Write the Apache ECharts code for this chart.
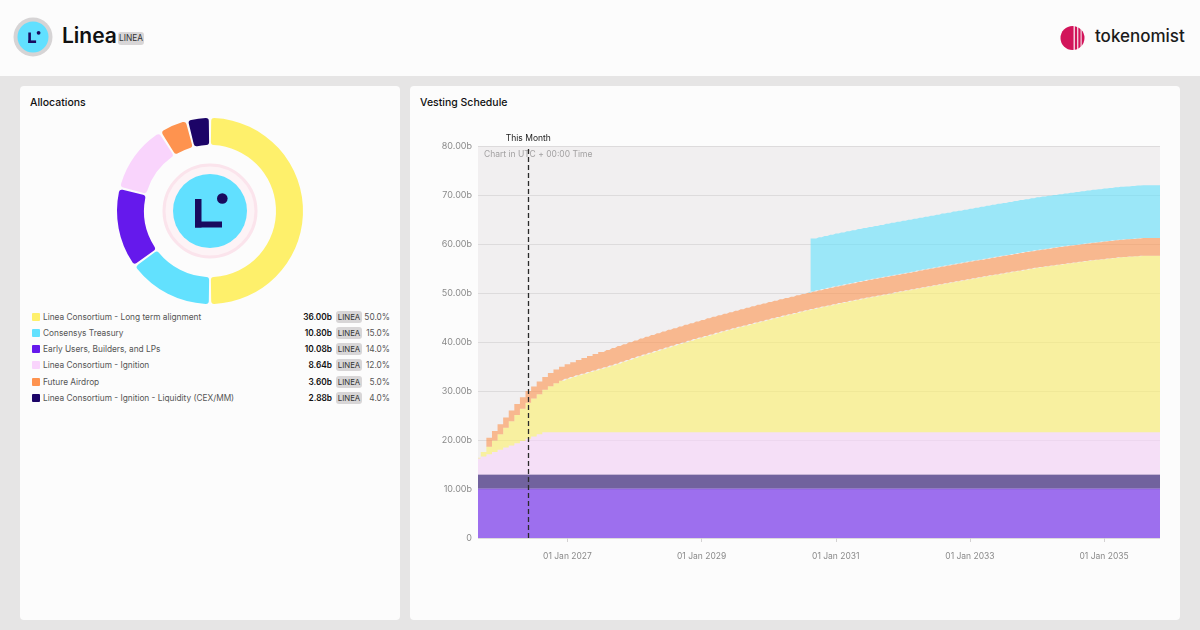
<!DOCTYPE html>
<html>
<head>
<meta charset="utf-8">
<title>Linea - Vesting Schedule</title>
<script src="https://cdn.jsdelivr.net/npm/echarts@6/dist/echarts.min.js"></script>
<style>
  html, body { margin: 0; padding: 0; }
  body { width: 1200px; height: 630px; background: #e6e5e5; position: relative; overflow: hidden; font-family: Inter, 'Noto Sans', sans-serif; }
  .header { position: absolute; left: 0; top: 0; width: 1200px; height: 76px; background: #fcfcfc; }
  .brand { position: absolute; left: 62px; top: 23px; font-size: 21px; font-weight: 600; color: #111; }
  .badge { position: absolute; background: #d8d6d7; color: #333; border-radius: 3px; font-size: 8px; text-align: center; line-height: 12px; height: 12px; }
  .tokenomist { position: absolute; left: 1095px; top: 26px; font-size: 17px; font-weight: 500; color: #1b1b1b; }
  .panel { position: absolute; top: 86px; height: 534px; background: #fcfcfc; border-radius: 4px; }
  .title { position: absolute; left: 10px; top: 10px; font-size: 10.5px; font-weight: 500; color: #111; }
  .row { position: absolute; left: 32px; width: 358px; height: 14px; font-size: 8.3px; line-height: 14px; color: #555; }
  .row .sw { position: absolute; left: 0; top: 3px; width: 8px; height: 8px; border-radius: 1px; }
  .row .nm { position: absolute; left: 11px; }
  .row .val { position: absolute; right: 58px; font-weight: 600; color: #111; }
  .row .pct { position: absolute; right: 0; }
  .row .badge { font-size: 7.8px; }
  #chart { position: absolute; left: 0; top: 0; width: 1200px; height: 630px; }
</style>
</head>
<body>
<div class="header">
  <div class="brand">Linea</div>
  <div class="badge" style="left:118px;top:32px;width:26px;height:13px;line-height:13px;font-size:8.3px;">LINEA</div>
  <div class="tokenomist">tokenomist</div>
</div>
<div class="panel" style="left:20px;width:380px;"><div class="title">Allocations</div></div>
<div class="panel" style="left:410px;width:770px;"><div class="title">Vesting Schedule</div></div>
<div id="legendRows"></div>
<div id="chart"></div>

<script>
// allocations
const allocNames = ['Linea Consortium - Long term alignment', 'Consensys Treasury', 'Early Users, Builders, and LPs',
	'Linea Consortium - Ignition', 'Future Airdrop', 'Linea Consortium - Ignition - Liquidity (CEX/MM)'];
const allocAmounts = [36.00, 10.80, 10.08, 8.64, 3.60, 2.88];
const allocShares = [50.0, 15.0, 14.0, 12.0, 5.0, 4.0];
const allocColors = ['#fef06b', '#62e1fe', '#6519ec', '#f9d4fc', '#fe934f', '#1c0467'];

// monthly x categories, Sep 2025 .. Nov 2035
const monthNames = ['Jan', 'Feb', 'Mar', 'Apr', 'May', 'Jun', 'Jul', 'Aug', 'Sep', 'Oct', 'Nov', 'Dec'];
const monthCount = 123;
const months = [];
for (let i = 0; i < monthCount; i++) {
	const m = (8 + i) % 12;
	const y = 2025 + Math.floor((8 + i) / 12);
	months.push('01 ' + monthNames[m] + ' ' + y);
}
const tickLabels = ['01 Jan 2027', '01 Jan 2029', '01 Jan 2031', '01 Jan 2033', '01 Jan 2035'];
const thisMonth = '01 Jun 2026';

// unlocked amounts (billions), read month by month; flat after the last value
const earlyUsers = [10.08];
const liquidity = [2.88];
const ignition = [3.24, 3.69, 4.14, 4.59, 5.04, 5.49, 5.94, 6.39, 6.84, 7.29, 7.74, 8.19, 8.64];
const longTerm = [
	0.20, 0.90, 1.52, 2.36, 3.19, 4.06, 4.93, 5.75, 6.57, 7.34,
	7.75, 8.20, 8.63, 9.35, 9.97, 10.48, 10.88, 11.24, 11.59, 11.93,
	12.27, 12.60, 12.93, 13.25, 13.58, 13.97, 14.36, 14.74, 15.12, 15.49,
	15.85, 16.21, 16.57, 16.93, 17.29, 17.63, 17.97, 18.31, 18.65, 18.99,
	19.31, 19.63, 19.95, 20.27, 20.59, 20.89, 21.19, 21.49, 21.79, 22.09,
	22.38, 22.66, 22.95, 23.23, 23.52, 23.79, 24.06, 24.33, 24.60, 24.87,
	25.12, 25.37, 25.62, 25.87, 26.12, 26.35, 26.58, 26.81, 27.04, 27.27,
	27.48, 27.69, 27.90, 28.11, 28.32, 28.53, 28.74, 28.95, 29.16, 29.37,
	29.58, 29.79, 29.99, 30.20, 30.40, 30.61, 30.81, 31.01, 31.21, 31.41,
	31.61, 31.80, 32.00, 32.19, 32.39, 32.58, 32.77, 32.96, 33.15, 33.34,
	33.53, 33.69, 33.85, 34.01, 34.17, 34.33, 34.48, 34.62, 34.77, 34.91,
	35.06, 35.18, 35.31, 35.43, 35.56, 35.68, 35.76, 35.84, 35.92, 36.00
];
const airdrop = [null, 0, 1.85, 1.93, 2.01, 2.09, 2.17, 2.25, 2.33, 2.41, 2.49, 2.57, 2.65, 2.73, 2.81,
	2.89, 2.97, 3.05, 3.13, 3.21, 3.29, 3.37, 3.45, 3.53, 3.60];
const treasuryCliff = '01 Sep 2030';
const treasuryAmount = 10.80;

function hold(values) {
	const out = values.slice();
	while (out.length < monthCount) out.push(out[out.length - 1]);
	return out;
}
// nothing drawn before the cliff, one zero step just before it
const cliffIdx = months.indexOf(treasuryCliff);
const treasury = months.map((m, i) => (i >= cliffIdx ? treasuryAmount : (i === cliffIdx - 1 ? 0 : null)));

// legend rows
const rowsBox = document.getElementById('legendRows');
allocNames.forEach((name, i) => {
	const row = document.createElement('div');
	row.className = 'row';
	row.style.top = (309.5 + i * 16.3) + 'px';
	row.innerHTML = '<span class="sw" style="background:' + allocColors[i] + '"></span>' +
		'<span class="nm">' + name + '</span>' +
		'<span class="val">' + allocAmounts[i].toFixed(2) + 'b</span>' +
		'<span class="badge" style="left:304px;top:1px;width:26px;">LINEA</span>' +
		'<span class="pct">' + allocShares[i].toFixed(1) + '%</span>';
	rowsBox.appendChild(row);
});

const showTick = (idx, value) => tickLabels.indexOf(value) >= 0;

// stacking order bottom -> top
const layers = [
	{ idx: 2, data: hold(earlyUsers) },
	{ idx: 5, data: hold(liquidity) },
	{ idx: 3, data: hold(ignition) },
	{ idx: 0, data: hold(longTerm) },
	{ idx: 4, data: hold(airdrop) },
	{ idx: 1, data: treasury }
];

const myChart = echarts.init(document.getElementById('chart'), null, { renderer: 'canvas' });
const ink = '#190b5e';
const option = {
	animation: false,
	textStyle: { fontFamily: 'Inter, sans-serif' },
	grid: { left: 478, right: 40, top: 146, bottom: 92, show: true, backgroundColor: '#f1eff0', borderWidth: 0 },
	xAxis: {
		type: 'category',
		boundaryGap: false,
		data: months,
		axisLine: { show: false },
		axisTick: { show: true, interval: showTick, length: 4, lineStyle: { color: '#d4d2d3' } },
		axisLabel: { interval: showTick, color: '#8a8a8a', fontSize: 8.5, margin: 14 },
		splitLine: { show: false }
	},
	yAxis: {
		type: 'value',
		min: 0,
		max: 80,
		interval: 10,
		axisLine: { show: false },
		axisTick: { show: false },
		axisLabel: { color: '#8a8a8a', fontSize: 9, margin: 6, formatter: v => (v === 0 ? '0' : v.toFixed(2) + 'b') },
		splitLine: { lineStyle: { color: '#dddbdc', width: 1 } }
	},
	series: layers.map((l, k) => {
		const s = {
			name: allocNames[l.idx],
			type: 'line',
			stack: 'total',
			step: 'middle',
			symbol: 'none',
			silent: true,
			connectNulls: false,
			data: l.data,
			lineStyle: { width: 0 },
			itemStyle: { color: allocColors[l.idx] },
			areaStyle: { color: allocColors[l.idx], opacity: 0.6 }
		};
		if (k === 0) {
			s.markLine = {
				silent: true,
				symbol: ['none', 'none'],
				data: [{ xAxis: thisMonth }],
				lineStyle: { type: [5, 3], color: '#2a2a2a', width: 1.3 },
				label: { show: true, position: 'end', formatter: 'This Month', color: '#222', fontSize: 8.5, distance: 3 }
			};
		}
		return s;
	}).concat([{
		type: 'pie',
		center: [210, 211],
		radius: [66, 93],
		startAngle: 90,
		clockwise: true,
		padAngle: 1.5,
		silent: true,
		label: { show: false },
		itemStyle: { borderRadius: 3 },
		data: allocNames.map((n, i) => ({ name: n, value: allocShares[i], itemStyle: { color: allocColors[i] } }))
	}]),
	graphic: [
		// header logo
		{ type: 'circle', shape: { cx: 33, cy: 37, r: 19.5 }, style: { fill: '#d6d4d5' } },
		{ type: 'circle', shape: { cx: 33, cy: 37, r: 15.5 }, style: { fill: '#61e0ff' } },
		{ type: 'rect', shape: { x: 28.3, y: 32.5, width: 2.6, height: 10.5 }, style: { fill: ink } },
		{ type: 'rect', shape: { x: 28.3, y: 40.4, width: 7.8, height: 2.6 }, style: { fill: ink } },
		{ type: 'circle', shape: { cx: 38.6, cy: 32.8, r: 1.9 }, style: { fill: ink } },
		// donut centre
		{ type: 'circle', shape: { cx: 210, cy: 211, r: 46 }, style: { fill: '#fdf3f6', stroke: '#fbe4ec', lineWidth: 3 } },
		{ type: 'circle', shape: { cx: 210, cy: 211, r: 37 }, style: { fill: '#61e0ff' } },
		{ type: 'rect', shape: { x: 195, y: 199, width: 6.5, height: 28.5 }, style: { fill: ink } },
		{ type: 'rect', shape: { x: 195, y: 221.5, width: 27, height: 6 }, style: { fill: ink } },
		{ type: 'circle', shape: { cx: 222.3, cy: 198.5, r: 5.3 }, style: { fill: ink } },
		// tokenomist mark
		{ type: 'circle', shape: { cx: 1072.5, cy: 38, r: 12 }, style: { fill: '#d2145a' } },
		{ type: 'rect', shape: { x: 1073.6, y: 25, width: 1.2, height: 26 }, style: { fill: '#fcfcfc' } },
		{ type: 'rect', shape: { x: 1077.2, y: 25, width: 1.1, height: 26 }, style: { fill: '#fcfcfc' } },
		{ type: 'rect', shape: { x: 1080.6, y: 25, width: 1.0, height: 26 }, style: { fill: '#fcfcfc' } },
		// note inside the plot
		{ type: 'text', left: 484, top: 150, z: 0, style: { text: 'Chart in UTC + 00:00 Time', fill: '#a3a1a2', fontSize: 8.5, fontFamily: 'Inter, sans-serif' } }
	]
};
myChart.setOption(option);
</script>
</body>
</html>
